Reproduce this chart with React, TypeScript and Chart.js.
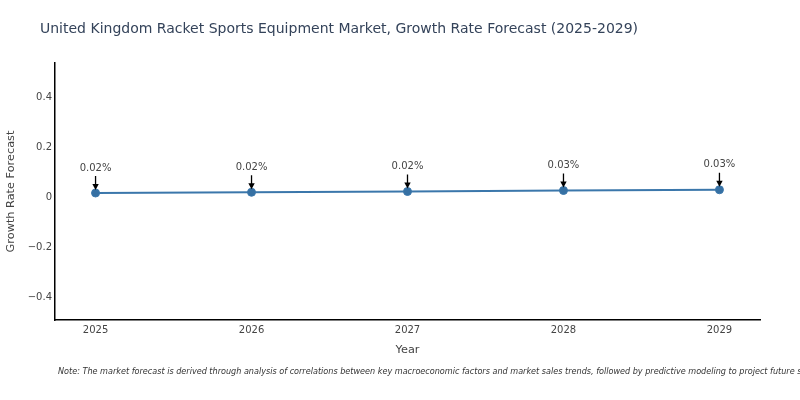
import { useEffect, useRef } from 'react'
import { Chart, registerables } from 'chart.js'
import type { Plugin } from 'chart.js'

Chart.register(...registerables)

const years = [2025, 2026, 2027, 2028, 2029]
const growthRates = [0.016, 0.019, 0.022, 0.026, 0.029]
const rateLabels = ['0.02%', '0.02%', '0.02%', '0.03%', '0.03%']
const yTicks = [-0.4, -0.2, 0, 0.2, 0.4]

const TITLE = 'United Kingdom Racket Sports Equipment Market, Growth Rate Forecast (2025-2029)'
const NOTE = 'Note: The market forecast is derived through analysis of correlations between key macroeconomic factors and market sales trends, followed by predictive modeling to project future sales.'
const FONT = '"DejaVu Sans", Verdana, sans-serif'

// draws title, axis titles, note and the arrow annotations
const decorations: Plugin<'line'> = {
  id: 'decorations',
  afterDatasetsDraw(chart) {
    const { ctx, chartArea, scales } = chart
    const x = scales.x
    const y = scales.y
    ctx.save()

    // arrow annotations
    years.forEach((yr, i) => {
      const px = x.getPixelForValue(yr)
      const py = y.getPixelForValue(growthRates[i])
      const tipY = py - 3
      const tailY = tipY - 14
      ctx.strokeStyle = '#000'
      ctx.fillStyle = '#000'
      ctx.lineWidth = 1.3
      ctx.beginPath()
      ctx.moveTo(px, tailY)
      ctx.lineTo(px, tipY - 4)
      ctx.stroke()
      ctx.beginPath()
      ctx.moveTo(px, tipY)
      ctx.lineTo(px - 3.2, tipY - 6)
      ctx.lineTo(px + 3.2, tipY - 6)
      ctx.closePath()
      ctx.fill()

      ctx.fillStyle = '#444'
      ctx.font = `10px ${FONT}`
      ctx.textAlign = 'center'
      ctx.textBaseline = 'bottom'
      ctx.fillText(rateLabels[i], px, tailY - 3)
    })

    // title
    ctx.fillStyle = '#34435a'
    ctx.font = `14px ${FONT}`
    ctx.textAlign = 'left'
    ctx.textBaseline = 'alphabetic'
    ctx.fillText(TITLE, 40, 33)

    // axis titles
    ctx.fillStyle = '#444'
    ctx.font = `11.3px ${FONT}`
    ctx.textAlign = 'center'
    ctx.textBaseline = 'middle'
    ctx.fillText('Year', (chartArea.left + chartArea.right) / 2, 350)
    ctx.save()
    ctx.translate(11, (chartArea.top + chartArea.bottom) / 2)
    ctx.rotate(-Math.PI / 2)
    ctx.fillText('Growth Rate Forecast', 0, 0)
    ctx.restore()

    // note
    ctx.fillStyle = '#333'
    ctx.font = `italic 8.1px ${FONT}`
    ctx.textAlign = 'left'
    ctx.textBaseline = 'middle'
    ctx.fillText(NOTE, 58, 372)

    ctx.restore()
  }
}

export default function App() {
  const canvasRef = useRef<HTMLCanvasElement>(null)

  useEffect(() => {
    if (!canvasRef.current) return

    const chart = new Chart(canvasRef.current, {
      type: 'line',
      data: {
        datasets: [
          {
            data: years.map((yr, i) => ({ x: yr, y: growthRates[i] })),
            borderColor: '#3b77ab',
            backgroundColor: '#3670a3',
            borderWidth: 2,
            pointRadius: 4,
            pointHoverRadius: 4,
            pointBorderWidth: 1,
            tension: 0
          }
        ]
      },
      options: {
        animation: false,
        responsive: false,
        layout: { padding: { top: 63, right: 40, left: 0, bottom: 0 } },
        plugins: {
          legend: { display: false },
          tooltip: { enabled: false }
        },
        scales: {
          x: {
            type: 'linear',
            min: 2024.74,
            max: 2029.26,
            grid: { display: false, drawTicks: false },
            border: { display: true, color: '#000', width: 1.5 },
            afterBuildTicks: scale => {
              scale.ticks = years.map(v => ({ value: v }))
            },
            afterFit: scale => {
              scale.height = 80
            },
            ticks: {
              color: '#444',
              font: { family: FONT, size: 10 },
              padding: 4,
              maxRotation: 0,
              callback: v => String(v)
            }
          },
          y: {
            type: 'linear',
            min: -0.492,
            max: 0.536,
            grid: { display: false, drawTicks: false },
            border: { display: true, color: '#000', width: 1.5 },
            afterBuildTicks: scale => {
              scale.ticks = yTicks.map(v => ({ value: v }))
            },
            afterFit: scale => {
              scale.width = 55
            },
            ticks: {
              color: '#444',
              font: { family: FONT, size: 10 },
              padding: 3,
              callback: v => {
                const n = Number(v)
                if (n === 0) return '0'
                return n < 0 ? '\u2212' + Math.abs(n).toString() : n.toString()
              }
            }
          }
        }
      },
      plugins: [decorations]
    })

    return () => chart.destroy()
  }, [])

  return (
    <div style={{ position: 'fixed', left: 0, top: 0, width: 800, height: 400, background: '#fff' }}>
      <canvas ref={canvasRef} width={800} height={400} style={{ width: 800, height: 400 }} />
    </div>
  )
}
